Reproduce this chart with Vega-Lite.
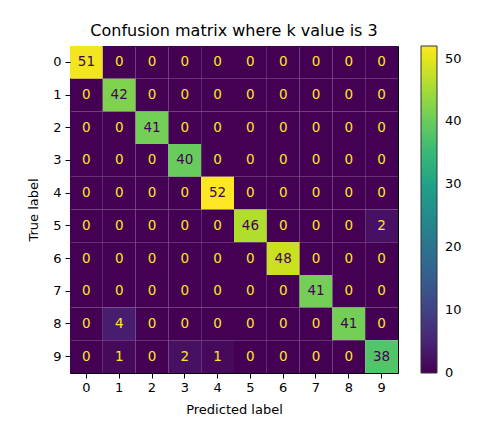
{
  "$schema": "https://vega.github.io/schema/vega-lite/v6.json",
  "autosize": "none",
  "width": 328,
  "height": 327,
  "padding": {"left": 70, "top": 46, "right": 98, "bottom": 69},
  "background": "white",
  "config": {
    "font": "DejaVu Sans",
    "view": {"stroke": "black", "strokeWidth": 1}
  },
  "title": {"text": "Confusion matrix where k value is 3", "fontSize": 16, "fontWeight": "normal", "color": "black", "anchor": "middle", "offset": 7},
  "data": {"values": [
    {"t":0,"p":0,"v":51},{"t":0,"p":1,"v":0},{"t":0,"p":2,"v":0},{"t":0,"p":3,"v":0},{"t":0,"p":4,"v":0},{"t":0,"p":5,"v":0},{"t":0,"p":6,"v":0},{"t":0,"p":7,"v":0},{"t":0,"p":8,"v":0},{"t":0,"p":9,"v":0},
    {"t":1,"p":0,"v":0},{"t":1,"p":1,"v":42},{"t":1,"p":2,"v":0},{"t":1,"p":3,"v":0},{"t":1,"p":4,"v":0},{"t":1,"p":5,"v":0},{"t":1,"p":6,"v":0},{"t":1,"p":7,"v":0},{"t":1,"p":8,"v":0},{"t":1,"p":9,"v":0},
    {"t":2,"p":0,"v":0},{"t":2,"p":1,"v":0},{"t":2,"p":2,"v":41},{"t":2,"p":3,"v":0},{"t":2,"p":4,"v":0},{"t":2,"p":5,"v":0},{"t":2,"p":6,"v":0},{"t":2,"p":7,"v":0},{"t":2,"p":8,"v":0},{"t":2,"p":9,"v":0},
    {"t":3,"p":0,"v":0},{"t":3,"p":1,"v":0},{"t":3,"p":2,"v":0},{"t":3,"p":3,"v":40},{"t":3,"p":4,"v":0},{"t":3,"p":5,"v":0},{"t":3,"p":6,"v":0},{"t":3,"p":7,"v":0},{"t":3,"p":8,"v":0},{"t":3,"p":9,"v":0},
    {"t":4,"p":0,"v":0},{"t":4,"p":1,"v":0},{"t":4,"p":2,"v":0},{"t":4,"p":3,"v":0},{"t":4,"p":4,"v":52},{"t":4,"p":5,"v":0},{"t":4,"p":6,"v":0},{"t":4,"p":7,"v":0},{"t":4,"p":8,"v":0},{"t":4,"p":9,"v":0},
    {"t":5,"p":0,"v":0},{"t":5,"p":1,"v":0},{"t":5,"p":2,"v":0},{"t":5,"p":3,"v":0},{"t":5,"p":4,"v":0},{"t":5,"p":5,"v":46},{"t":5,"p":6,"v":0},{"t":5,"p":7,"v":0},{"t":5,"p":8,"v":0},{"t":5,"p":9,"v":2},
    {"t":6,"p":0,"v":0},{"t":6,"p":1,"v":0},{"t":6,"p":2,"v":0},{"t":6,"p":3,"v":0},{"t":6,"p":4,"v":0},{"t":6,"p":5,"v":0},{"t":6,"p":6,"v":48},{"t":6,"p":7,"v":0},{"t":6,"p":8,"v":0},{"t":6,"p":9,"v":0},
    {"t":7,"p":0,"v":0},{"t":7,"p":1,"v":0},{"t":7,"p":2,"v":0},{"t":7,"p":3,"v":0},{"t":7,"p":4,"v":0},{"t":7,"p":5,"v":0},{"t":7,"p":6,"v":0},{"t":7,"p":7,"v":41},{"t":7,"p":8,"v":0},{"t":7,"p":9,"v":0},
    {"t":8,"p":0,"v":0},{"t":8,"p":1,"v":4},{"t":8,"p":2,"v":0},{"t":8,"p":3,"v":0},{"t":8,"p":4,"v":0},{"t":8,"p":5,"v":0},{"t":8,"p":6,"v":0},{"t":8,"p":7,"v":0},{"t":8,"p":8,"v":41},{"t":8,"p":9,"v":0},
    {"t":9,"p":0,"v":0},{"t":9,"p":1,"v":1},{"t":9,"p":2,"v":0},{"t":9,"p":3,"v":2},{"t":9,"p":4,"v":1},{"t":9,"p":5,"v":0},{"t":9,"p":6,"v":0},{"t":9,"p":7,"v":0},{"t":9,"p":8,"v":0},{"t":9,"p":9,"v":38}
  ]},
  "encoding": {
    "x": {"field": "p", "type": "ordinal", "scale": {"paddingInner": 0, "paddingOuter": 0},
      "axis": {"title": "Predicted label", "labelAngle": 0, "labelFontSize": 13, "titleFontSize": 13, "titleFontWeight": "normal", "labelColor": "black", "titleColor": "black", "tickColor": "black", "domain": false, "tickSize": 5, "labelPadding": 3, "titlePadding": 9}},
    "y": {"field": "t", "type": "ordinal", "scale": {"paddingInner": 0, "paddingOuter": 0},
      "axis": {"title": "True label", "labelFontSize": 13, "titleFontSize": 13, "titleFontWeight": "normal", "labelColor": "black", "titleColor": "black", "tickColor": "black", "domain": false, "tickSize": 5, "labelPadding": 4, "titlePadding": 12}}
  },
  "layer": [
    {
      "mark": {"type": "rect"},
      "encoding": {
        "color": {"field": "v", "type": "quantitative",
          "scale": {"scheme": "viridis", "domain": [0, 52]},
          "legend": {"title": null, "orient": "none", "legendX": 351, "legendY": 0, "direction": "vertical",
            "gradientLength": 327, "gradientThickness": 16, "gradientStrokeColor": "#333", "gradientStrokeWidth": 1,
            "values": [0, 10, 20, 30, 40, 50], "labelFontSize": 13, "labelColor": "black", "labelOffset": 8,
            "encode": {"labels": {"update": {"baseline": {"value": "middle"}}}}}}
      }
    },
    {
      "mark": {"type": "text", "fontSize": 13.5},
      "encoding": {
        "text": {"field": "v", "type": "quantitative"},
        "color": {"condition": {"test": "datum.v > 26", "value": "#440154"}, "value": "#fde725"}
      }
    }
  ]
}
